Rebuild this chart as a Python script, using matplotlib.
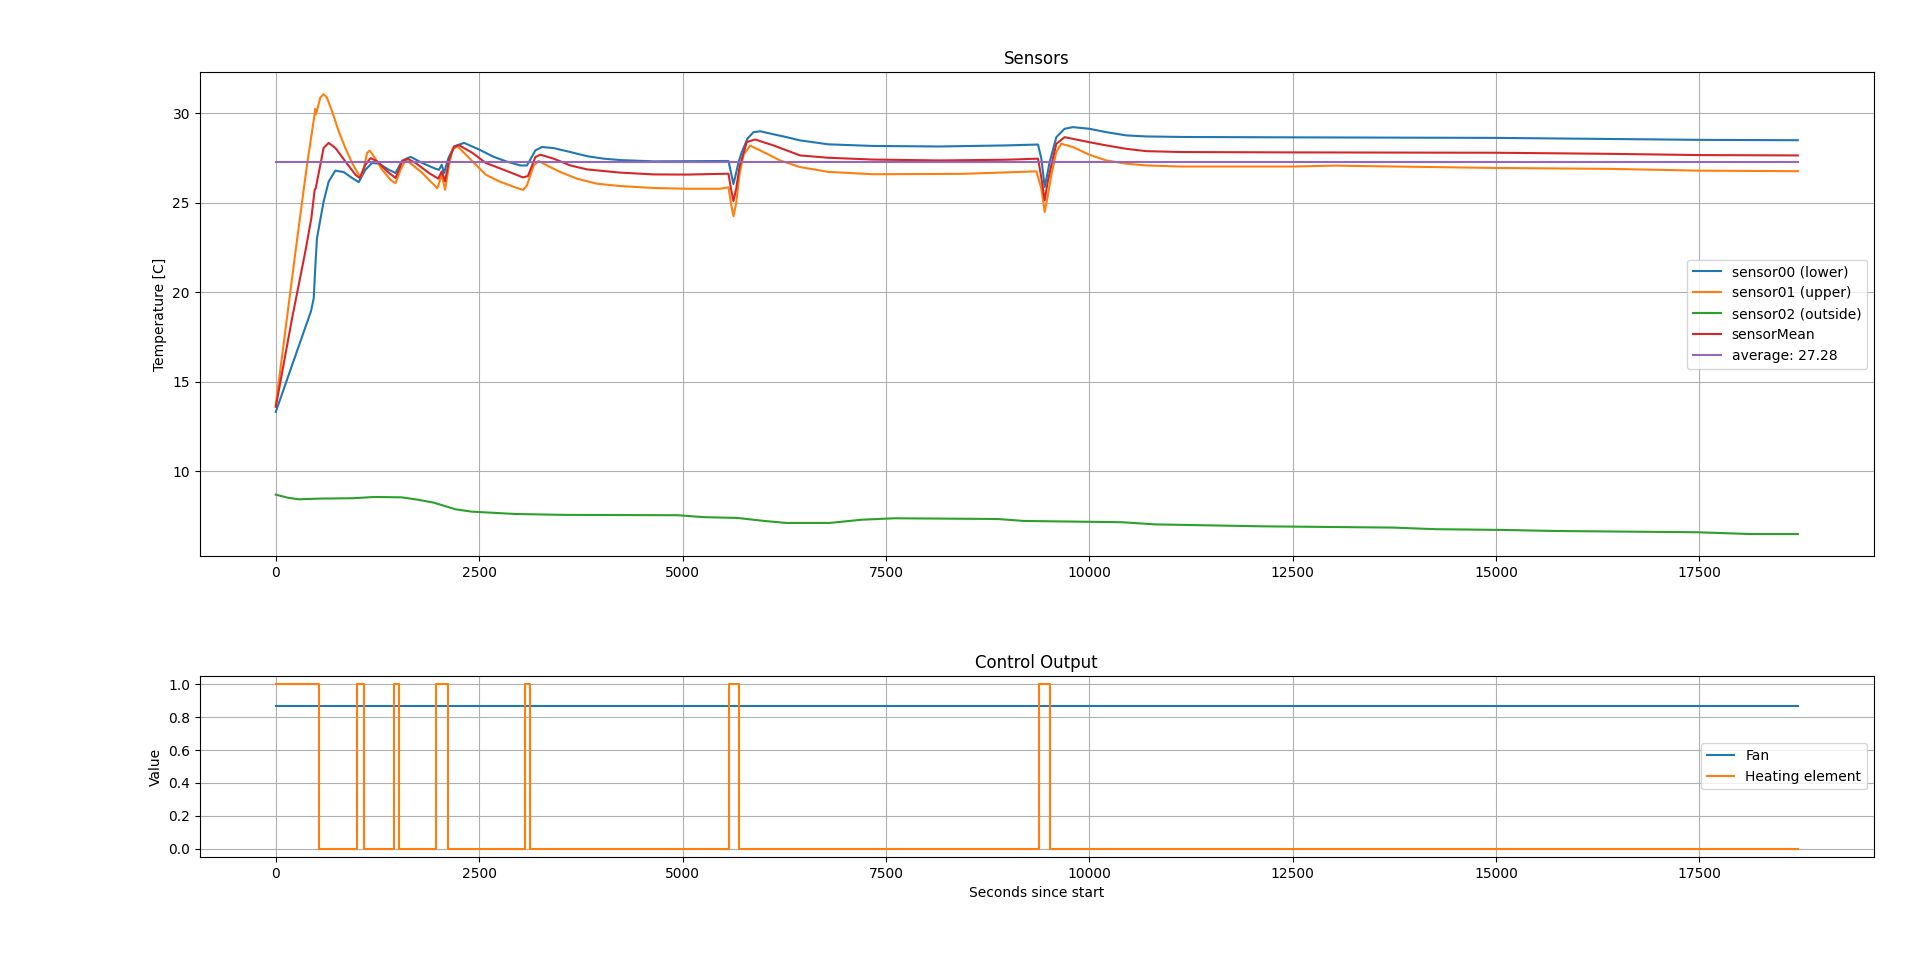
import matplotlib
matplotlib.use("Agg")
import matplotlib.pyplot as plt

# sensor00 (lower)
t_s00 = [0, 200, 433, 466, 486, 506, 588, 650, 732, 835,
         938, 1020, 1102, 1184, 1267, 1390, 1472, 1554, 1657, 1801,
         1966, 2007, 2040, 2068, 2122, 2192, 2315, 2500, 2665, 2829,
         3007, 3088, 3191, 3273, 3416, 3621, 3825, 4030, 4235, 4644,
         5565, 5600, 5626, 5655, 5690, 5729, 5800, 5872, 5954, 6100,
         6281, 6445, 6793, 7341, 8162, 8981, 9370, 9411, 9452, 9480,
         9513, 9595, 9697, 9799, 10000, 10209, 10454, 10700, 11178, 12500,
         15000, 16391, 17500, 18710]
v_s00 = [13.32, 15.93, 18.95, 19.66, 21.44, 23.02, 25.07, 26.19, 26.8, 26.72,
         26.39, 26.16, 26.85, 27.23, 27.19, 26.85, 26.67, 27.36, 27.57, 27.23,
         26.9, 26.85, 27.13, 26.67, 27.5, 28.16, 28.35, 27.98, 27.6, 27.32,
         27.09, 27.09, 27.93, 28.12, 28.06, 27.84, 27.61, 27.47, 27.39, 27.32,
         27.34, 26.6, 26.05, 26.6, 27.3, 27.84, 28.6, 28.95, 29.0, 28.85,
         28.67, 28.49, 28.27, 28.18, 28.15, 28.21, 28.26, 27.47, 25.89, 26.5,
         27.28, 28.67, 29.14, 29.23, 29.14, 28.95, 28.77, 28.71, 28.68, 28.66,
         28.63, 28.57, 28.52, 28.5]

# sensor01 (upper)
t_s01 = [0, 240, 380, 477, 485, 495, 547, 588, 629,
         691, 773, 855, 938, 1020, 1049, 1081, 1123, 1155, 1205,
         1308, 1410, 1472, 1534, 1596, 1678, 1801, 1924, 1986, 2040,
         2081, 2130, 2171, 2233, 2336, 2459, 2582, 2747, 2911, 3040,
         3088, 3170, 3232, 3334, 3498, 3703, 3948, 4235, 4644, 5053,
         5463, 5565, 5595, 5626, 5660, 5700, 5751, 5831, 5995, 6199,
         6445, 6793, 7341, 8437, 9349, 9411, 9452, 9490, 9533, 9595,
         9656, 9799, 10000, 10209, 10454, 10700, 11128, 12500, 13008, 15000,
         16391, 17500, 18710]
v_s01 = [13.7, 22.2, 27.0, 29.94, 30.25, 29.95, 30.88, 31.07, 30.88,
         30.13, 29.0, 28.07, 27.23, 26.57, 26.48, 26.95, 27.79, 27.92, 27.6,
         26.85, 26.29, 26.1, 26.85, 27.4, 27.13, 26.67, 26.1, 25.82, 26.57,
         25.73, 27.13, 27.98, 28.16, 27.7, 27.13, 26.57, 26.2, 25.92, 25.72,
         25.98, 27.09, 27.34, 27.09, 26.72, 26.35, 26.07, 25.94, 25.83, 25.79,
         25.79, 25.87, 25.0, 24.25, 25.0, 26.6, 27.7, 28.2, 27.84, 27.37,
         27.0, 26.73, 26.6, 26.62, 26.76, 25.8, 24.49, 25.4, 26.54, 27.84,
         28.3, 28.12, 27.69, 27.37, 27.19, 27.09, 27.03, 27.03, 27.08, 26.95,
         26.9, 26.8, 26.77]

# sensor02 (outside)
t_s02 = [0, 147, 280, 546, 946, 1212, 1545, 1745, 1945, 2211,
         2411, 2944, 3543, 4942, 5275, 5674, 6007, 6274, 6807, 7206,
         7606, 8871, 9204, 10403, 10802, 12134, 13733, 14266, 15065, 15731,
         17463, 18129, 18710]
v_s02 = [8.7, 8.53, 8.44, 8.48, 8.5, 8.57, 8.55, 8.42, 8.25, 7.88,
         7.75, 7.62, 7.57, 7.55, 7.44, 7.4, 7.23, 7.12, 7.12, 7.3,
         7.38, 7.34, 7.23, 7.16, 7.04, 6.93, 6.86, 6.77, 6.73, 6.67,
         6.6, 6.5, 6.5]

# sensorMean
t_mean = [0, 200, 363, 437, 478, 490, 548, 588, 650, 732,
          855, 979, 1032, 1102, 1164, 1246, 1369, 1472, 1554, 1616,
          1719, 1883, 1998, 2040, 2081, 2130, 2192, 2253, 2418, 2582,
          2829, 3040, 3100, 3191, 3252, 3416, 3621, 3825, 4235, 4644,
          5053, 5565, 5595, 5626, 5660, 5700, 5790, 5892, 6117, 6445,
          6793, 7341, 8162, 8981, 9370, 9411, 9452, 9490, 9533, 9595,
          9697, 10000, 10209, 10454, 10700, 11128, 12500, 15000, 16391, 17500,
          18710]
v_mean = [13.6, 18.54, 22.28, 24.14, 25.73, 25.8, 27.13, 28.07, 28.35, 28.07,
          27.32, 26.57, 26.39, 27.13, 27.5, 27.32, 26.76, 26.39, 27.32, 27.47,
          27.23, 26.67, 26.35, 26.76, 26.2, 27.41, 28.13, 28.22, 27.79, 27.23,
          26.8, 26.42, 26.5, 27.56, 27.69, 27.47, 27.09, 26.87, 26.69, 26.59,
          26.58, 26.63, 25.8, 25.1, 25.8, 27.0, 28.4, 28.54, 28.21, 27.65,
          27.52, 27.42, 27.37, 27.41, 27.47, 26.4, 25.14, 26.2, 27.09, 28.3,
          28.67, 28.39, 28.21, 28.02, 27.89, 27.84, 27.82, 27.8, 27.74, 27.67,
          27.65]

average = 27.28
t_end = 18710

# control output
fan_value = 0.866
t_heat = [0, 535, 999, 1084, 1450, 1520, 1970, 2111, 3061, 3124, 5566, 5700, 9387, 9514, 18710]
v_heat = [1, 0, 1, 0, 1, 0, 1, 0, 1, 0, 1, 0, 1, 0, 0]

fig, (ax1, ax2) = plt.subplots(
    2, 1,
    figsize=(19.2, 9.76),
    dpi=100,
    gridspec_kw={"height_ratios": [484, 181]},
)
fig.subplots_adjust(left=0.104, right=0.976, top=0.926, bottom=0.122, hspace=0.361)

ax1.plot(t_s00, v_s00, label="sensor00 (lower)")
ax1.plot(t_s01, v_s01, label="sensor01 (upper)")
ax1.plot(t_s02, v_s02, label="sensor02 (outside)")
ax1.plot(t_mean, v_mean, label="sensorMean")
ax1.plot([0, t_end], [average, average], label=f"average: {average:.2f}")
ax1.set_title("Sensors")
ax1.set_ylabel("Temperature [C]")
ax1.grid(True)
ax1.legend(loc="center right")

ax2.plot([0, t_end], [fan_value, fan_value], label="Fan")
ax2.plot(t_heat, v_heat, drawstyle="steps-post", label="Heating element")
ax2.set_title("Control Output")
ax2.set_ylabel("Value")
ax2.set_xlabel("Seconds since start")
ax2.grid(True)
ax2.legend(loc="center right")

fig.savefig("out.png")
